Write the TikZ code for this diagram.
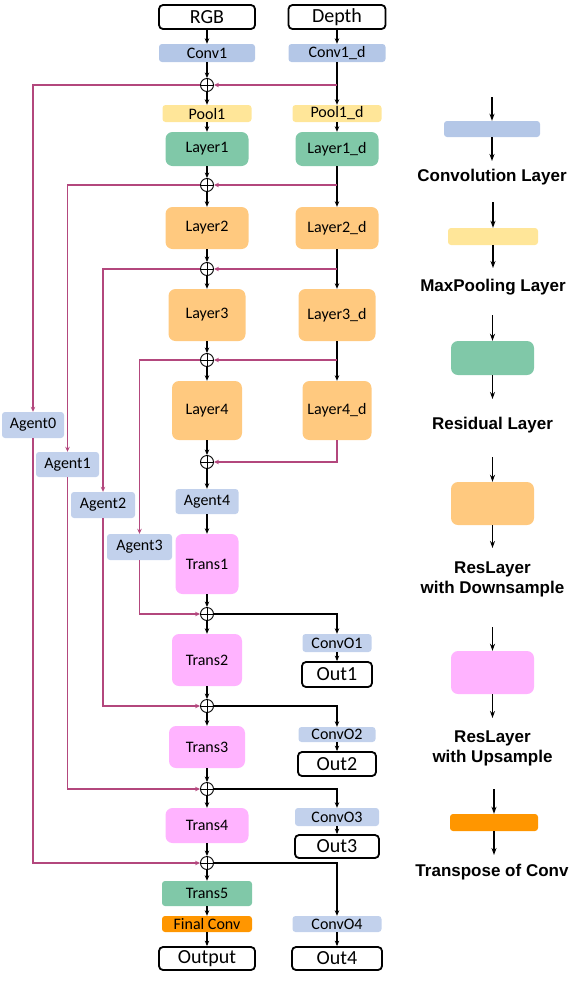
\documentclass[tikz,border=0pt]{standalone}
\usepackage{fontspec}
\setmainfont{Carlito}
\newfontfamily\legfont{Liberation Sans}
\usetikzlibrary{arrows.meta}
\definecolor{cblue}{HTML}{B4C7E7}
\definecolor{ablue}{HTML}{C2D1EC}
\definecolor{pyel}{HTML}{FFE699}
\definecolor{rgreen}{HTML}{80C8A8}
\definecolor{lorange}{HTML}{FFC97F}
\definecolor{lpink}{HTML}{FFB3FF}
\definecolor{forange}{HTML}{FF9600}
\definecolor{pline}{HTML}{B3477D}
\begin{document}
\begin{tikzpicture}[x=1pt,y=-1pt,
  box/.style={rectangle, rounded corners=3pt, inner sep=0pt, font=\fontsize{16}{18}\selectfont},
  bigbox/.style={box, rounded corners=7pt},
  iobox/.style={rectangle, draw, line width=1.8pt, rounded corners=4pt, fill=white, inner sep=0pt, font=\fontsize{20}{22}\selectfont},
  arr/.style={line width=1.3pt, -{Stealth[length=5.5pt,width=4.5pt]}},
  larr/.style={line width=1.3pt, -{Stealth[length=7pt,width=5pt]}},
  parr/.style={draw=pline, line width=1.4pt, -{Stealth[length=5pt,width=4.5pt]}},
  oplus/.style={circle, draw, line width=0.9pt, minimum size=13pt, inner sep=0pt, fill=white,
    path picture={\draw[line width=0.8pt] (path picture bounding box.north) -- (path picture bounding box.south) (path picture bounding box.west) -- (path picture bounding box.east);}},
  leg/.style={font=\legfont\bfseries\fontsize{17}{20}\selectfont, align=center, inner sep=0pt}
]
\useasboundingbox (0,0) rectangle (581,983);

% ---- main columns ----
\node[iobox, minimum width=96pt, minimum height=24pt] (rgb) at (207,17) {RGB};
\node[iobox, minimum width=97pt, minimum height=24pt] (depth) at (337,17) {Depth};
\node[box, fill=cblue, minimum width=96pt, minimum height=18pt] (conv1) at (207,53) {Conv1};
\node[box, fill=cblue, minimum width=97pt, minimum height=18pt] (conv1d) at (337,53) {Conv1\_d};
\node[oplus] (o1) at (207,85) {};
\node[box, fill=pyel, minimum width=89pt, minimum height=17pt] (pool1) at (207,113.5) {Pool1};
\node[box, fill=pyel, minimum width=89pt, minimum height=17pt] (pool1d) at (337,113.5) {Pool1\_d};
\node[bigbox, fill=rgreen, minimum width=83pt, minimum height=34pt] (layer1) at (207,149) {Layer1};
\node[bigbox, fill=rgreen, minimum width=83pt, minimum height=34pt] (layer1d) at (337,149) {Layer1\_d};
\node[oplus] (o2) at (207,185) {};
\node[bigbox, fill=lorange, minimum width=83pt, minimum height=42pt] (layer2) at (207,228) {Layer2};
\node[bigbox, fill=lorange, minimum width=83pt, minimum height=42pt] (layer2d) at (337,228) {Layer2\_d};
\node[oplus] (o3) at (207,269) {};
\node[bigbox, fill=lorange, minimum width=77pt, minimum height=52pt] (layer3) at (207,315) {Layer3};
\node[bigbox, fill=lorange, minimum width=77pt, minimum height=52pt] (layer3d) at (337,315) {Layer3\_d};
\node[oplus] (o4) at (207,360) {};
\node[bigbox, fill=lorange, minimum width=70pt, minimum height=59pt] (layer4) at (207,410.5) {Layer4};
\node[bigbox, fill=lorange, minimum width=69pt, minimum height=59pt] (layer4d) at (337,410.5) {Layer4\_d};
\node[oplus] (o5) at (207,462) {};

\node[box, fill=ablue, minimum width=62pt, minimum height=26pt] (agent0) at (33,425) {Agent0};
\node[box, fill=ablue, minimum width=63pt, minimum height=25pt] (agent1) at (67.5,464.5) {Agent1};
\node[box, fill=ablue, minimum width=64pt, minimum height=26pt] (agent2) at (103,505) {Agent2};
\node[box, fill=ablue, minimum width=65pt, minimum height=26pt] (agent3) at (139.5,547) {Agent3};
\node[box, fill=ablue, minimum width=63pt, minimum height=25pt] (agent4) at (207,501.5) {Agent4};

\node[bigbox, fill=lpink, minimum width=63pt, minimum height=60pt] (trans1) at (207,564) {Trans1};
\node[oplus] (o6) at (207,614) {};
\node[bigbox, fill=lpink, minimum width=70pt, minimum height=52pt] (trans2) at (207,660) {Trans2};
\node[oplus] (o7) at (207,706) {};
\node[bigbox, fill=lpink, minimum width=76pt, minimum height=42pt] (trans3) at (207,747) {Trans3};
\node[oplus] (o8) at (207,789) {};
\node[bigbox, fill=lpink, minimum width=83pt, minimum height=35pt] (trans4) at (207,825.5) {Trans4};
\node[oplus] (o9) at (207,863) {};
\node[box, fill=rgreen, minimum width=90pt, minimum height=25pt] (trans5) at (207,893.5) {Trans5};
\node[box, fill=forange, minimum width=90pt, minimum height=16pt] (final) at (207,924) {Final Conv};
\node[iobox, minimum width=96pt, minimum height=23pt] (output) at (207,958.5) {Output};

\node[box, fill=ablue, minimum width=69pt, minimum height=18pt] (convo1) at (337,643) {ConvO1};
\node[iobox, minimum width=70pt, minimum height=25pt] (out1) at (337,674.5) {Out1};
\node[box, fill=ablue, minimum width=77pt, minimum height=15pt] (convo2) at (337,734.5) {ConvO2};
\node[iobox, minimum width=78pt, minimum height=24pt] (out2) at (337,764) {Out2};
\node[box, fill=ablue, minimum width=84pt, minimum height=18pt] (convo3) at (337,817) {ConvO3};
\node[iobox, minimum width=84pt, minimum height=23pt] (out3) at (337,846.5) {Out3};
\node[box, fill=ablue, minimum width=89pt, minimum height=16pt] (convo4) at (337,924) {ConvO4};
\node[iobox, minimum width=90pt, minimum height=23pt] (out4) at (337,958.5) {Out4};

% ---- black main flow ----
\draw[arr] (rgb) -- (conv1);
\draw[arr] (depth) -- (conv1d);
\draw[arr] (conv1) -- (o1);
\draw[arr] (o1) -- (pool1);
\draw[arr] (pool1) -- (layer1);
\draw[arr] (layer1) -- (o2);
\draw[arr] (o2) -- (layer2);
\draw[arr] (layer2) -- (o3);
\draw[arr] (o3) -- (layer3);
\draw[arr] (layer3) -- (o4);
\draw[arr] (o4) -- (layer4);
\draw[arr] (layer4) -- (o5);
\draw[arr] (o5) -- (agent4);
\draw[arr] (agent4) -- (trans1);
\draw[arr] (trans1) -- (o6);
\draw[arr] (o6) -- (trans2);
\draw[arr] (trans2) -- (o7);
\draw[arr] (o7) -- (trans3);
\draw[arr] (trans3) -- (o8);
\draw[arr] (o8) -- (trans4);
\draw[arr] (trans4) -- (o9);
\draw[arr] (o9) -- (trans5);
\draw[arr] (trans5) -- (final);
\draw[arr] (final) -- (output);

\draw[arr] (conv1d) -- (pool1d);
\draw[arr] (pool1d) -- (layer1d);
\draw[arr] (layer1d) -- (layer2d);
\draw[arr] (layer2d) -- (layer3d);
\draw[arr] (layer3d) -- (layer4d);

\draw[arr] (o6) -- (o6 -| convo1) -- (convo1);
\draw[arr] (convo1) -- (out1);
\draw[arr] (o7) -- (o7 -| convo2) -- (convo2);
\draw[arr] (convo2) -- (out2);
\draw[arr] (o8) -- (o8 -| convo3) -- (convo3);
\draw[arr] (convo3) -- (out3);
\draw[arr] (o9) -- (o9 -| convo4) -- (convo4);
\draw[arr] (convo4) -- (out4);

% ---- pink fusion lines ----
\draw[parr] (o1 -| conv1d) -- (o1);
\draw[parr] (o2 -| layer1d) -- (o2);
\draw[parr] (o3 -| layer2d) -- (o3);
\draw[parr] (o4 -| layer3d) -- (o4);
\draw[parr] (layer4d) -- (layer4d |- o5) -- (o5);

\draw[parr] (o1) -- (o1 -| agent0) -- (agent0);
\draw[parr] (o2) -- (o2 -| agent1) -- (agent1);
\draw[parr] (o3) -- (o3 -| agent2) -- (agent2);
\draw[parr] (o4) -- (o4 -| agent3) -- (agent3);

\draw[parr] (agent3) -- (agent3 |- o6) -- (o6);
\draw[parr] (agent2) -- (agent2 |- o7) -- (o7);
\draw[parr] (agent1) -- (agent1 |- o8) -- (o8);
\draw[parr] (agent0) -- (agent0 |- o9) -- (o9);

% ---- legend ----
\node[box, fill=cblue, minimum width=96pt, minimum height=16pt] (lconv) at (492,129) {};
\coordinate (lc1) at (492,97); \coordinate (lc2) at (492,161);
\draw[larr] (lc1) -- (lconv); \draw[larr] (lconv) -- (lc2);
\node[leg] (tconv) at (492,177) {Convolution Layer};

\node[box, fill=pyel, minimum width=90pt, minimum height=17pt] (lpool) at (493,236.5) {};
\coordinate (lp1) at (493,202); \coordinate (lp2) at (493,268);
\draw[larr] (lp1) -- (lpool); \draw[larr] (lpool) -- (lp2);
\node[leg] (tpool) at (493,287) {MaxPooling Layer};

\node[bigbox, fill=rgreen, minimum width=83pt, minimum height=34pt] (lres) at (492.5,358) {};
\coordinate (lr1) at (492.5,315); \coordinate (lr2) at (492.5,399);
\draw[larr] (lr1) -- (lres); \draw[larr] (lres) -- (lr2);
\node[leg] (tres) at (492.5,425) {Residual Layer};

\node[bigbox, fill=lorange, minimum width=83pt, minimum height=43pt] (ldown) at (492.5,503.5) {};
\coordinate (ld1) at (492.5,457); \coordinate (ld2) at (492.5,548);
\draw[larr] (ld1) -- (ldown); \draw[larr] (ldown) -- (ld2);
\node[leg] (tdown) at (492.5,579) {ResLayer\\with Downsample};

\node[bigbox, fill=lpink, minimum width=83pt, minimum height=43pt] (lup) at (492.5,672.5) {};
\coordinate (lu1) at (492.5,627); \coordinate (lu2) at (492.5,718);
\draw[larr] (lu1) -- (lup); \draw[larr] (lup) -- (lu2);
\node[leg] (tup) at (492.5,748) {ResLayer\\with Upsample};

\node[box, fill=forange, minimum width=88pt, minimum height=17pt] (ltr) at (494,822.5) {};
\coordinate (lt1) at (494,789); \coordinate (lt2) at (494,855);
\draw[larr] (lt1) -- (ltr); \draw[larr] (ltr) -- (lt2);
\node[leg] (ttr) at (492,872) {Transpose of Conv};
\end{tikzpicture}
\end{document}
